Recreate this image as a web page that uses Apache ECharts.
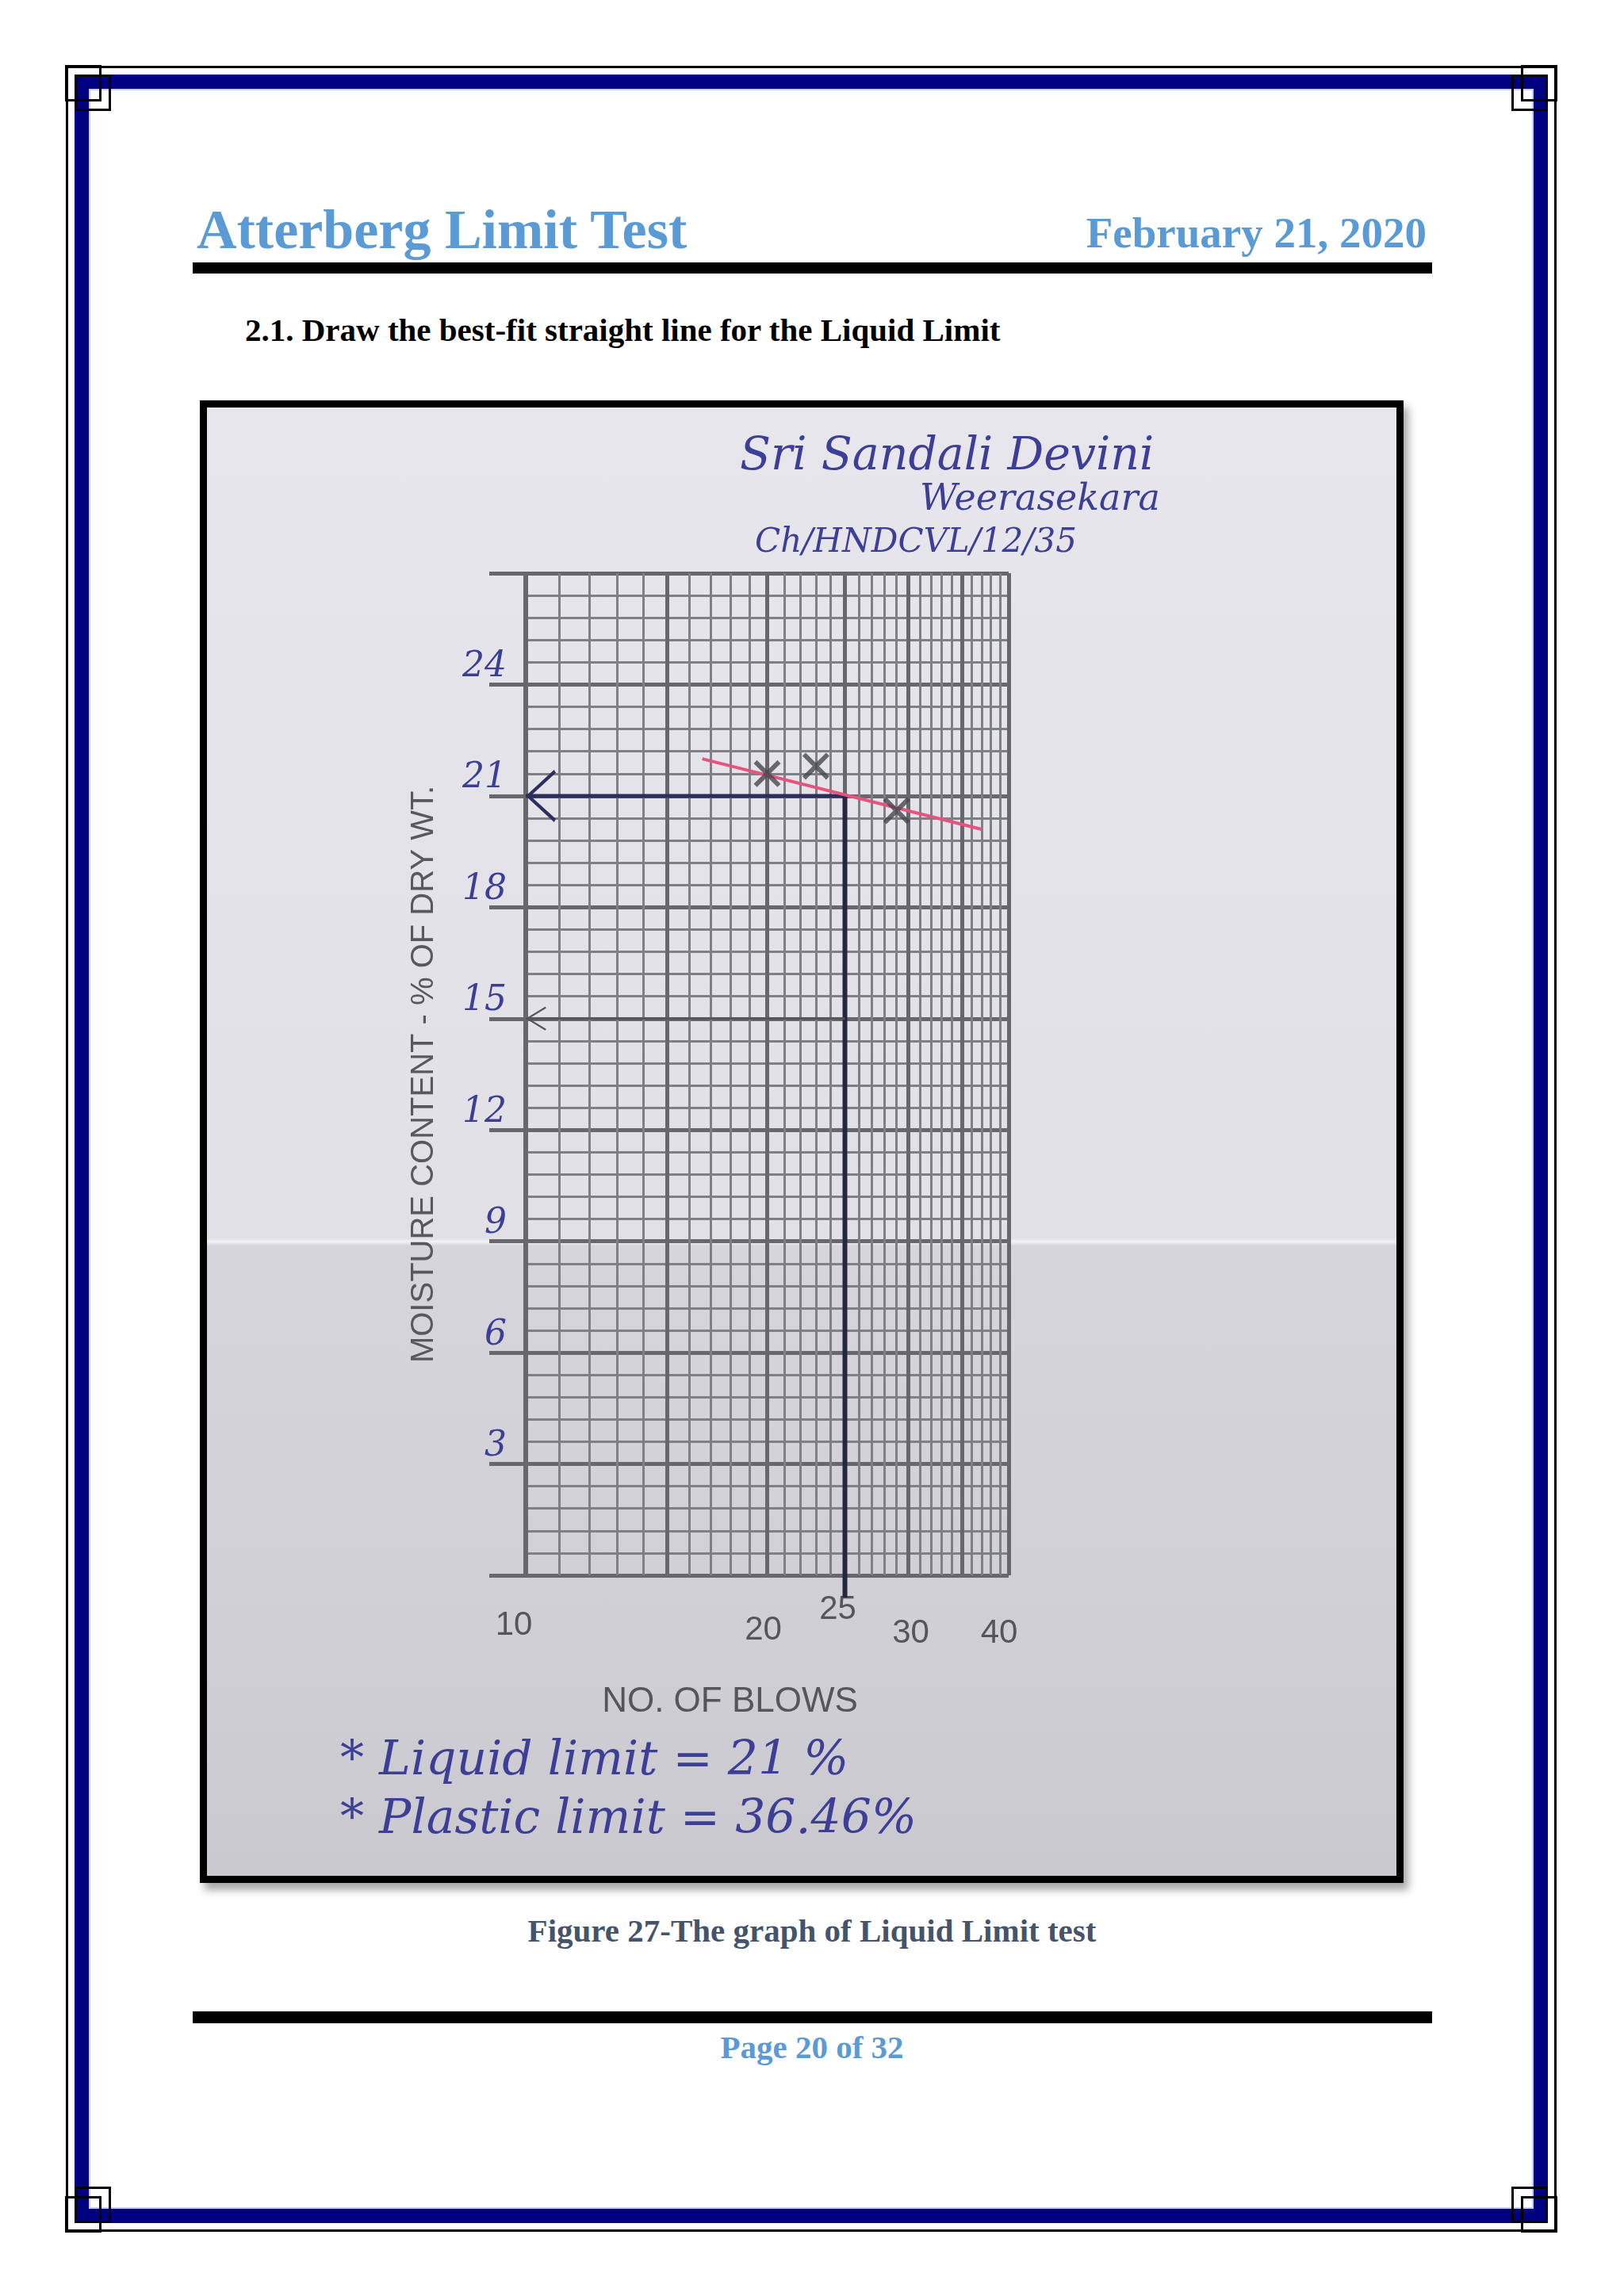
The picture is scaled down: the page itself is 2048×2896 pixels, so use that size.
<!DOCTYPE html>
<html><head><meta charset="utf-8">
<script src="https://cdn.jsdelivr.net/npm/echarts@6/dist/echarts.min.js"></script>
<style>
html,body{margin:0;padding:0;background:#fff;}
#page{position:relative;width:2048px;height:2896px;overflow:hidden;background:#fff;}
.abs{position:absolute;box-sizing:border-box;}
.serif{font-family:"Liberation Serif","Times New Roman",serif;font-weight:bold;line-height:1;white-space:nowrap;}
.sq{position:absolute;border:3px solid #000;background:transparent;box-sizing:border-box;}
#chart{position:absolute;left:0;top:0;width:2048px;height:2896px;}
</style></head><body>
<div id="page">
  <!-- page border -->
  <div class="abs" style="left:83px;top:83px;width:1880px;height:2732px;border:3px solid #000;"></div>
  <div class="abs" style="left:94px;top:94px;width:1858px;height:2710px;border:18px solid #000080;"></div>
  <div class="abs" style="left:112px;top:112px;width:1822px;height:2674px;border:2px solid #c9cde8;"></div>
  <!-- corner squares -->
  <div class="sq" style="left:82px;top:82px;width:46px;height:46px;"></div>
  <div class="sq" style="left:94px;top:94px;width:46px;height:46px;"></div>
  <div class="sq" style="left:1918px;top:82px;width:46px;height:46px;"></div>
  <div class="sq" style="left:1906px;top:94px;width:46px;height:46px;"></div>
  <div class="sq" style="left:82px;top:2770px;width:46px;height:46px;"></div>
  <div class="sq" style="left:94px;top:2758px;width:46px;height:46px;"></div>
  <div class="sq" style="left:1918px;top:2770px;width:46px;height:46px;"></div>
  <div class="sq" style="left:1906px;top:2758px;width:46px;height:46px;"></div>

  <!-- header -->
  <div class="abs serif" style="left:248px;top:255px;font-size:70px;color:#5b9bd5;">Atterberg Limit Test</div>
  <div class="abs serif" style="right:249px;top:266px;font-size:55px;color:#5b9bd5;">February 21, 2020</div>
  <div class="abs" style="left:243px;top:331px;width:1563px;height:14px;background:#000;"></div>
  <div class="abs serif" style="left:309px;top:396px;font-size:41px;color:#000;">2.1. Draw the best-fit straight line for the Liquid Limit</div>

  <!-- photo frame -->
  <div class="abs" style="left:252px;top:505px;width:1518px;height:1870px;border:9px solid #000;
       box-shadow:6px 9px 10px rgba(0,0,0,0.35);
       background:linear-gradient(to bottom,#e7e6ec 0%,#e1e0e7 56.6%,#f3f3f5 56.8%,#d7d5dc 57.1%,#d2d0d7 80%,#cbc9d0 100%);"></div>

  <!-- caption & footer -->
  <div class="abs serif" style="left:0;width:2048px;text-align:center;top:2415px;font-size:41px;color:#44546a;">Figure 27-The graph of Liquid Limit test</div>
  <div class="abs" style="left:243px;top:2537px;width:1563px;height:15px;background:#000;"></div>
  <div class="abs serif" style="left:0;width:2048px;text-align:center;top:2562px;font-size:41px;color:#5b9bd5;">Page 20 of 32</div>

  <div id="chart"></div>
</div>
<script>
// ---- data ----
const blows = [20, 23, 29];
const moisture = [21.6, 21.8, 20.6];
const fitBlows = [16.6, 37];
const fitMoisture = [22.0, 20.1];
const liquidLimitBlows = 25;
const liquidLimitValue = 21;
const secondGuideValue = 15;
const axisFootValue = -0.6;
const majorBlowLines = [10, 15, 20, 25, 30, 35, 40];
const minorBlowLines = [11, 12, 13, 14, 16, 17, 18, 19, 21, 22, 23, 24, 26, 27, 28, 29, 31, 32, 33, 34, 36, 37, 38, 39];
const blowLabels = [10, 20, 30, 40];
const raisedBlowLabels = [25];
const moistureMin = 0, moistureMax = 27, moistureMajorStep = 3, moistureMinorStep = 0.6;

const inkBlue = '#3d3f96';
const handFont = '"DejaVu Serif", "Liberation Serif", serif';
const gridMinor = '#7f7f86';
const gridMajor = '#67676d';

const chevron = 'path://M100,6 L16,50 L100,94 L94,100 L0,50 L94,0 Z';

// printed label nudges relative to their grid lines (as printed on the paper)
const labelNudge = {10: -15, 20: -5, 25: -9, 30: 3, 40: -12};

const labelStyle = {show: true, position: 'start', opacity: 1, fontFamily: '"Liberation Sans", Arial, sans-serif',
  fontSize: 42, color: '#55555b'};
const vLines = [];
minorBlowLines.forEach(v => vLines.push({xAxis: v, lineStyle: {color: gridMinor, width: 3, type: 'solid'}}));
majorBlowLines.forEach(v => {
  const item = {xAxis: v, lineStyle: {color: gridMajor, width: (v === 10 ? 6 : 5), type: 'solid'}};
  if (blowLabels.indexOf(v) >= 0) {
    item.label = Object.assign({}, labelStyle, {formatter: String(v), offset: [labelNudge[v], 0],
      distance: (v === 10 ? 42 : (v === 20 ? 48 : 52))});
  } else if (raisedBlowLabels.indexOf(v) >= 0) {
    item.label = Object.assign({}, labelStyle, {formatter: String(v), offset: [labelNudge[v], 0], distance: 22});
  }
  vLines.push(item);
});

const chart = echarts.init(document.getElementById('chart'), null, {renderer: 'canvas'});
chart.setOption({
  animation: false,
  backgroundColor: 'transparent',
  grid: {left: 663, top: 723, width: 609, height: 1264, containLabel: false},
  xAxis: [{
    type: 'log', logBase: 10, min: 10, max: 40,
    axisLine: {show: false}, axisTick: {show: false}, axisLabel: {show: false}, splitLine: {show: false},
    name: 'NO. OF BLOWS', nameLocation: 'middle', nameGap: 138,
    nameTextStyle: {fontFamily: '"Liberation Sans", Arial, sans-serif', fontSize: 44, color: '#55555b', padding: [0, 94, 0, 0]}
  }],
  yAxis: [{
    type: 'value', min: moistureMin, max: moistureMax, interval: moistureMajorStep, z: 1,
    axisLine: {show: false},
    axisTick: {show: true, length: 46, lineStyle: {color: gridMajor, width: 5}},
    axisLabel: {
      color: inkBlue, fontFamily: handFont, fontStyle: 'italic', fontSize: 44, margin: 24,
      verticalAlign: 'bottom', align: 'right',
      formatter: v => (v === moistureMin || v === moistureMax) ? '' : String(v)
    },
    splitLine: {show: true, lineStyle: {color: gridMajor, width: 5}},
    name: 'MOISTURE CONTENT - % OF DRY WT.', nameLocation: 'middle', nameRotate: 90, nameGap: 108,
    nameTextStyle: {fontFamily: '"Liberation Sans", Arial, sans-serif', fontSize: 40, color: '#58585e'}
  }, {
    type: 'value', min: moistureMin, max: moistureMax, interval: moistureMinorStep, z: 0,
    axisLine: {show: false}, axisTick: {show: false}, axisLabel: {show: false},
    splitLine: {show: true, lineStyle: {color: gridMinor, width: 3}}
  }],
  series: [{
    name: 'grid', type: 'line', data: [], silent: true, z: 1,
    markLine: {silent: true, symbol: ['none', 'none'], z: 1, label: {show: false}, data: vLines}
  }, {
    name: 'LL guide', type: 'line', z: 3, silent: true, showSymbol: true,
    lineStyle: {color: '#2c2f5e', width: 5},
    itemStyle: {color: '#2c2f5e'},
    data: [
      {value: [liquidLimitBlows, liquidLimitValue], symbol: 'none'},
      {value: [majorBlowLines[0], liquidLimitValue], symbol: chevron, symbolSize: [38, 66], symbolOffset: [19, 0], symbolKeepAspect: false}
    ]
  }, {
    name: 'LL drop', type: 'line', z: 3, silent: true, showSymbol: false, clip: false,
    lineStyle: {color: '#25273f', width: 6},
    data: [[liquidLimitBlows, liquidLimitValue], [liquidLimitBlows, axisFootValue]]
  }, {
    name: '15 guide', type: 'line', z: 3, silent: true, showSymbol: true,
    lineStyle: {color: '#55555c', width: 3},
    itemStyle: {color: '#55555c'},
    data: [
      {value: [liquidLimitBlows, secondGuideValue], symbol: 'none'},
      {value: [majorBlowLines[0], secondGuideValue], symbol: chevron, symbolSize: [26, 30], symbolOffset: [13, 0], symbolKeepAspect: false}
    ]
  }, {
    name: 'best fit', type: 'line', z: 4, silent: true, showSymbol: false,
    lineStyle: {color: '#e6547e', width: 4},
    data: fitBlows.map((b, i) => [b, fitMoisture[i]])
  }, {
    name: 'trials', type: 'scatter', z: 5, silent: true,
    symbol: 'path://M12,0 L50,38 L88,0 L100,12 L62,50 L100,88 L88,100 L50,62 L12,100 L0,88 L38,50 L0,12 Z',
    symbolSize: 34,
    itemStyle: {color: '#46464e'},
    data: blows.map((b, i) => [b, moisture[i]])
  }],
  graphic: [
    {type: 'text', silent: true, style: {text: 'Sri Sandali Devini', x: 933, y: 606, fill: inkBlue, font: 'italic 57px "DejaVu Serif"', verticalAlign: 'bottom'}},
    {type: 'text', silent: true, style: {text: 'Weerasekara', x: 1160, y: 654, fill: inkBlue, font: 'italic 46px "DejaVu Serif"', verticalAlign: 'bottom'}},
    {type: 'text', silent: true, style: {text: 'Ch/HNDCVL/12/35', x: 952, y: 706, fill: inkBlue, font: 'italic 42px "DejaVu Serif"', verticalAlign: 'bottom'}},
    {type: 'text', silent: true, style: {text: '* Liquid limit = 21 %', x: 429, y: 2252, fill: inkBlue, font: 'italic 60px "DejaVu Serif"', verticalAlign: 'bottom'}},
    {type: 'text', silent: true, style: {text: '* Plastic limit = 36.46%', x: 429, y: 2326, fill: inkBlue, font: 'italic 60px "DejaVu Serif"', verticalAlign: 'bottom'}}
  ]
});
</script>
</body></html>
